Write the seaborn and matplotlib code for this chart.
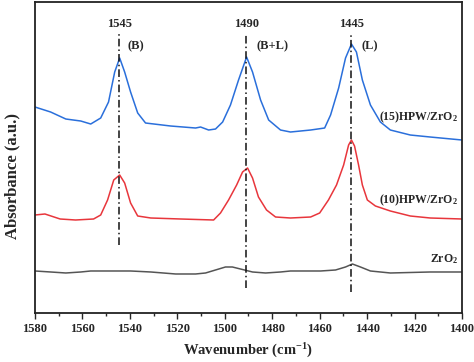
import numpy as np
import pandas as pd
import seaborn as sns
from matplotlib import pyplot as plt
from matplotlib.ticker import MultipleLocator

# wavenumber (cm-1) and absorbance (a.u.)
wn_15 = [1580, 1573.4, 1567, 1560.7, 1556.5, 1552.3, 1549, 1546.4, 1544.3, 1542.2,
         1539.7, 1536.7, 1533.4, 1522.8, 1512.3, 1510.2, 1506.8, 1503.9, 1500.9, 1497.6,
         1494.2, 1490.8, 1488.3, 1484.9, 1481.5, 1476.5, 1472.3, 1463.8, 1457.9, 1455.4,
         1452, 1449.1, 1446.6, 1444.5, 1442, 1438.6, 1434.4, 1430.2, 1421.8, 1413.4, 1400]
abs_15 = [2.06, 2.01, 1.94, 1.92, 1.89, 1.95, 2.11, 2.41, 2.55, 2.41,
          2.21, 2.00, 1.90, 1.87, 1.85, 1.86, 1.83, 1.84, 1.91, 2.08,
          2.33, 2.56, 2.41, 2.13, 1.93, 1.83, 1.81, 1.83, 1.85, 1.98,
          2.25, 2.55, 2.69, 2.61, 2.33, 2.08, 1.91, 1.83, 1.78, 1.76, 1.73]

wn_10 = [1580, 1575.8, 1569.4, 1562.9, 1555.3, 1552.3, 1549.4, 1546.8, 1544.3, 1542.2,
         1539.7, 1536.7, 1531.2, 1518.6, 1504.7, 1501.8, 1498.4, 1495, 1492.5, 1490.4,
         1488.3, 1485.8, 1482.4, 1478.6, 1472.3, 1463.8, 1460, 1456.3, 1452.9, 1449.9,
         1447.8, 1446.6, 1445.3, 1443.6, 1442, 1439.9, 1436.5, 1430.2, 1421.8, 1413.4, 1400]
abs_10 = [0.98, 0.99, 0.94, 0.93, 0.94, 0.98, 1.13, 1.33, 1.38, 1.30,
          1.10, 0.97, 0.95, 0.94, 0.93, 1.00, 1.13, 1.28, 1.41, 1.45,
          1.35, 1.16, 1.03, 0.96, 0.95, 0.96, 1.00, 1.13, 1.28, 1.48,
          1.68, 1.73, 1.67, 1.48, 1.28, 1.13, 1.07, 1.02, 0.97, 0.95, 0.94]

wn_zr = [1580, 1573.4, 1567, 1560.7, 1556.5, 1539.7, 1531.2, 1520.7, 1512.3, 1508.1,
         1503.9, 1499.7, 1496.8, 1493.4, 1488.3, 1482.8, 1476.5, 1472.3, 1459.6, 1453.3,
         1449.1, 1446.2, 1442.8, 1438.6, 1430.2, 1413.4, 1400]
abs_zr = [0.42, 0.41, 0.40, 0.41, 0.42, 0.42, 0.41, 0.39, 0.39, 0.40,
          0.43, 0.46, 0.46, 0.44, 0.41, 0.40, 0.41, 0.42, 0.42, 0.43,
          0.46, 0.49, 0.46, 0.42, 0.40, 0.41, 0.41]

series_names = ['(15)HPW/ZrO$_2$', '(10)HPW/ZrO$_2$', 'ZrO$_2$']
series_colors = ['#2a6fdb', '#e8363c', '#555555']

# band markers
peak_labels = ['1545', '1490', '1445']
peak_pos = [1544.4, 1490.9, 1446.6]
peak_bottom = [0.68, 0.25, 0.21]
peak_top = 2.80
band_names = ['(B)', '(B+L)', '(L)']

df = pd.concat([
    pd.DataFrame({'wn': wn_15, 'abs': abs_15, 'sample': series_names[0]}),
    pd.DataFrame({'wn': wn_10, 'abs': abs_10, 'sample': series_names[1]}),
    pd.DataFrame({'wn': wn_zr, 'abs': abs_zr, 'sample': series_names[2]}),
])

sns.set_style('ticks')
plt.rcParams['font.family'] = ['Liberation Serif', 'DejaVu Serif']
plt.rcParams['font.weight'] = 'bold'
plt.rcParams['mathtext.fontset'] = 'custom'
plt.rcParams['mathtext.rm'] = 'Liberation Serif:bold'
plt.rcParams['mathtext.default'] = 'rm'

fig = plt.figure(figsize=(4.74, 3.62), dpi=100)
ax = fig.add_axes([0.0738, 0.1354, 0.9009, 0.859])

sns.lineplot(data=df, x='wn', y='abs', hue='sample', palette=series_colors,
             linewidth=1.1, legend=False, ax=ax, sort=False, estimator=None)

ax.vlines(peak_pos, peak_bottom, peak_top, colors='#111111',
          linestyles=(0, (5, 2, 1, 2)), linewidth=1.1)

for i in range(len(peak_pos)):
    ax.text(peak_pos[i], 2.83, peak_labels[i], ha='center', va='bottom', fontsize=9, fontweight='bold')

ax.text(1541, 2.61, band_names[0], ha='left', va='bottom', fontsize=9, fontweight='bold')
ax.text(1486.5, 2.61, band_names[1], ha='left', va='bottom', fontsize=9, fontweight='bold')
ax.text(1442.3, 2.61, band_names[2], ha='left', va='bottom', fontsize=9, fontweight='bold')

ax.text(1401.5, 1.88, series_names[0], ha='right', va='bottom', fontsize=8.5, fontweight='bold')
ax.text(1401.5, 1.05, series_names[1], ha='right', va='bottom', fontsize=8.5, fontweight='bold')
ax.text(1401.5, 0.47, series_names[2], ha='right', va='bottom', fontsize=8.5, fontweight='bold')

ax.set_xlim(1580, 1400)
ax.set_ylim(0, 3.11)
ax.set_yticks([])
ax.xaxis.set_major_locator(MultipleLocator(20))
ax.xaxis.set_minor_locator(MultipleLocator(10))
ax.tick_params(axis='x', which='major', direction='out', length=4, width=1, labelsize=9, pad=3)
ax.tick_params(axis='x', which='minor', direction='out', length=2.5, width=1)
for lab in ax.get_xticklabels():
    lab.set_fontweight('bold')
for sp in ax.spines.values():
    sp.set_visible(True)
    sp.set_linewidth(1.3)
    sp.set_color('#222222')

ax.set_xlabel('Wavenumber (cm$^{-1}$)', fontsize=10.5, fontweight='bold', labelpad=5)
ax.set_ylabel('Absorbance (a.u.)', fontsize=12, fontweight='bold')
ax.yaxis.set_label_coords(-0.033, 0.44)

plt.savefig('out.png', dpi=100)
